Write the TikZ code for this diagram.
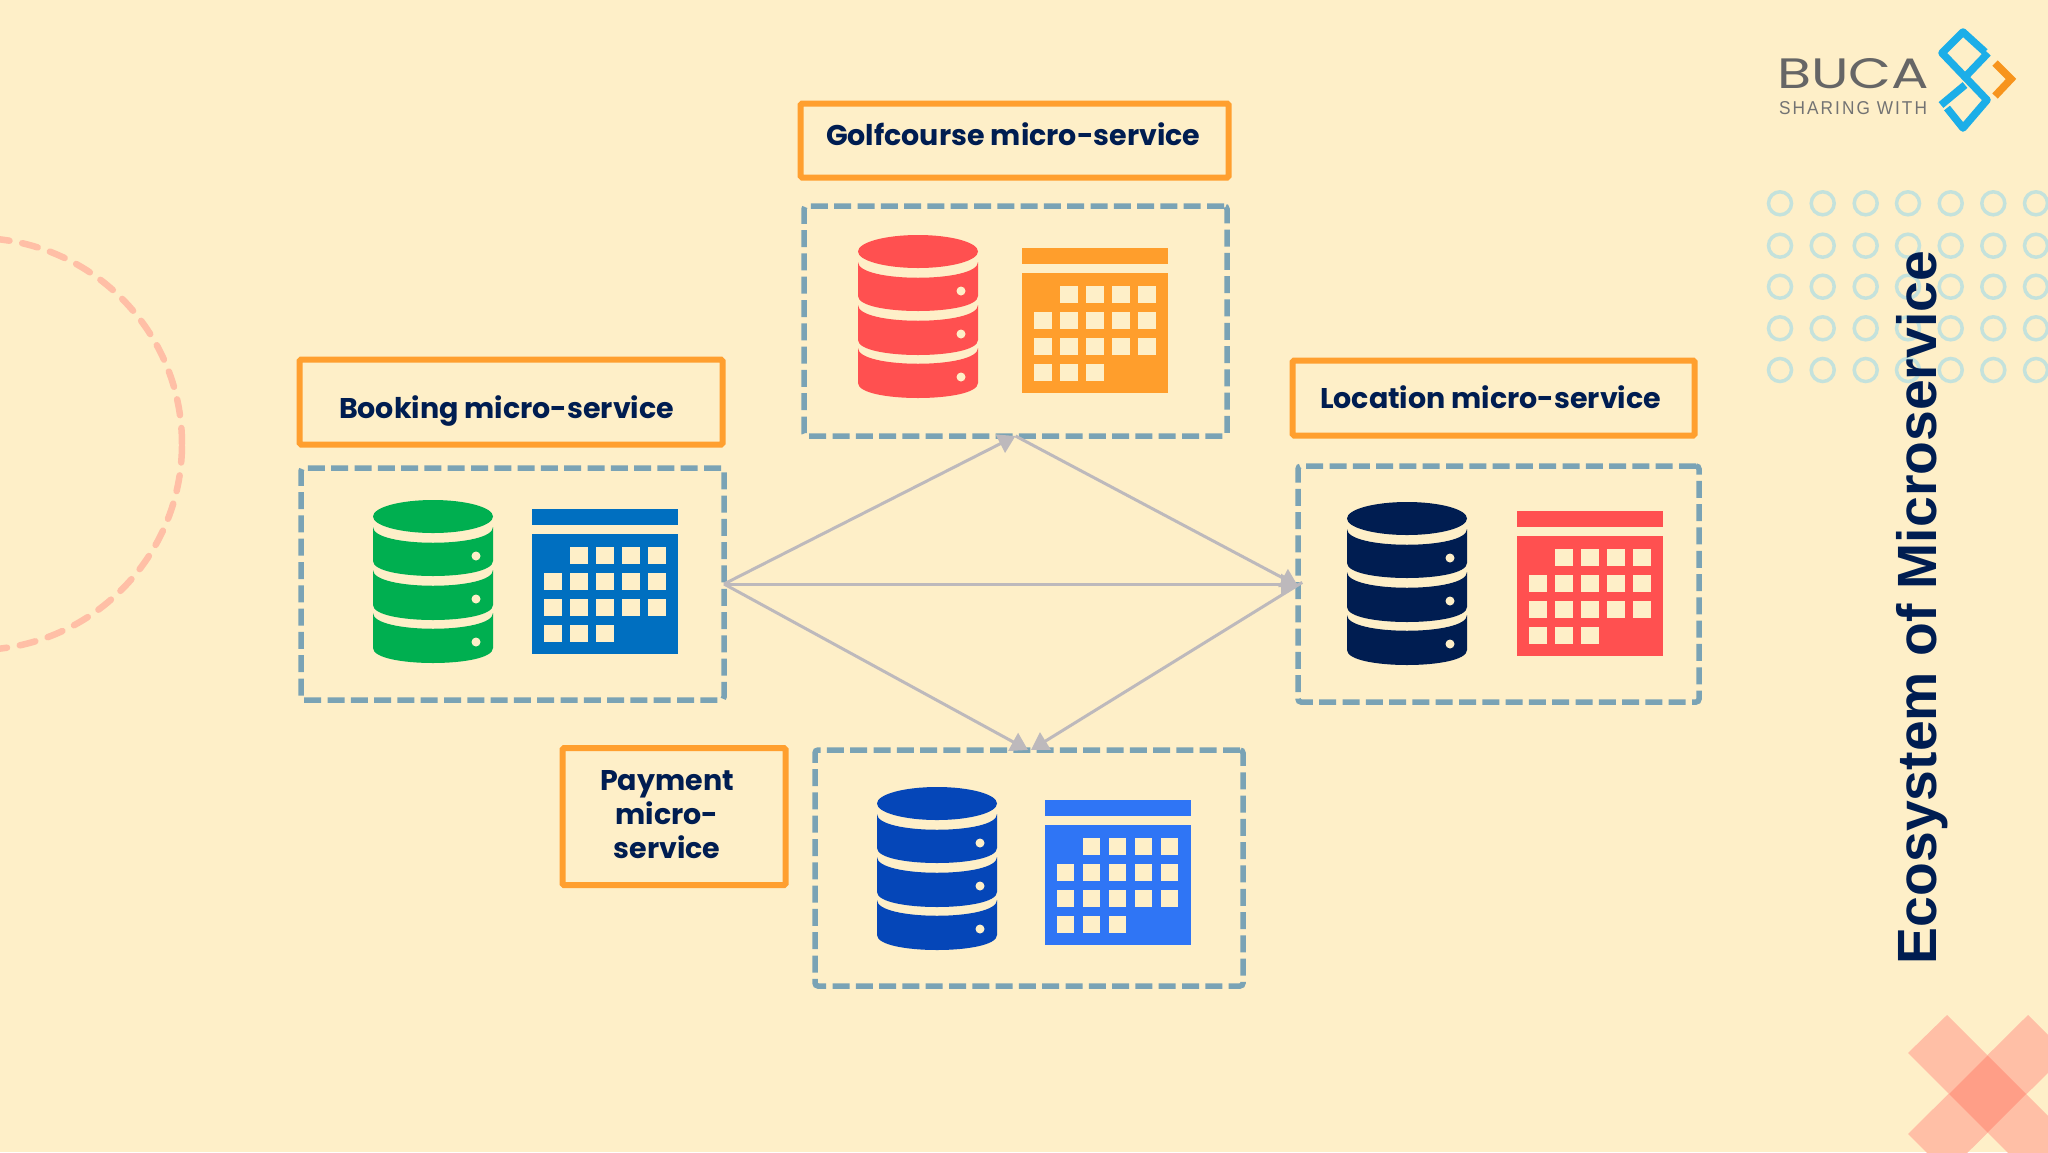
\documentclass[tikz,border=0pt]{standalone}
\usepackage{fontspec}
\usepackage{graphicx}
\setmainfont{Poppins}
\newfontfamily\titlefont{Liberation Sans}
\newfontfamily\logofont{Poppins}
\definecolor{bgc}{HTML}{FEEFC8}
\definecolor{navy}{HTML}{001D51}
\definecolor{orangeb}{HTML}{FF9F2F}
\definecolor{dashb}{HTML}{7AA3B5}
\definecolor{arrowc}{HTML}{BDB9BC}
\definecolor{peach}{HTML}{FFBFA6}
\definecolor{peachd}{HTML}{FF9E87}
\definecolor{ringc}{HTML}{C4E2DC}
\definecolor{logob}{HTML}{1CAEE8}
\definecolor{logoo}{HTML}{F7941D}
\definecolor{cgreen}{HTML}{00AF50}
\definecolor{cblue}{HTML}{006FC0}
\definecolor{cred}{HTML}{FF5050}
\definecolor{corange}{HTML}{FF9E2C}
\definecolor{cpdb}{HTML}{0546B8}
\definecolor{cpcal}{HTML}{2F75F5}
\usetikzlibrary{arrows.meta}
\tikzset{
  labelbox/.style={draw=orangeb,line width=6pt,rounded corners=1.5pt,inner sep=0pt,outer sep=0pt,anchor=north west,align=center},
  svcbox/.style={draw=dashb,line width=5.5pt,rounded corners=3pt,dash pattern=on 17pt off 6.3pt,inner sep=0pt,outer sep=0pt,anchor=north west},
  labeltext/.style={inner sep=0pt,outer sep=0pt,anchor=base west,text=navy,font=\bfseries\fontsize{28.5}{34}\selectfont},
  conn/.style={draw=arrowc,line width=3pt,-{Triangle[length=17pt,width=20pt,color=arrowc]}},
}
\newcommand{\DbIcon}[3]{%
  \begin{scope}[shift={(#1,#2)}]
    \fill[#3] (60,16.5) ellipse [x radius=60pt,y radius=16.5pt];
    \foreach \a/\b/\d in {27/61/56,70/105/99,113/148/142}{
      \fill[#3] (0,\a) .. controls (0,\a+21) and (120,\a+21) .. (120,\a) -- (120,\b)
        .. controls (120,\b+20) and (0,\b+20) .. (0,\b) -- cycle;
      \fill[bgc] (103,\d) circle [radius=4.5pt];
    }
  \end{scope}}
\newcommand{\CalIcon}[4]{%
  \begin{scope}[shift={(#1,#2)}]
    \fill[#4] (0,0) rectangle (146,16);
    \fill[#3] (0,25) rectangle (146,145);
    \foreach \cx/\cy in {1/0,2/0,3/0,4/0,0/1,1/1,2/1,3/1,4/1,0/2,1/2,2/2,3/2,4/2,0/3,1/3,2/3}{
      \fill[bgc] ({12.3+26*\cx},{37.7+26*\cy}) rectangle ++(17.3,17.3);
    }
  \end{scope}}
\begin{document}
\begin{tikzpicture}[x=1pt,y=-1pt]
\useasboundingbox (0,0) rectangle (2048,1152);
\clip (0,0) rectangle (2048,1152);
\fill[bgc] (0,0) rectangle (2048,1152);

% background decoration
\draw[peach,line width=6.5pt,line cap=round,dash pattern=on 16pt off 13pt] (-24,444) circle [radius=206pt];
\foreach \rx in {1780,1822.7,1865.7,1908,1950.7,1993.3,2036}{
  \foreach \ry in {203.3,245.7,286.7,328.3,370}{
    \draw[ringc,line width=3.5pt] (\rx,\ry) circle [radius=11.5pt];
  }
}
\fill[peach] (1908,1053) -- (1947,1015) -- (2067,1135) -- (2028,1173) -- cycle;
\fill[peach] (2028,1015) -- (2067,1054) -- (1947,1173) -- (1908,1134) -- cycle;
\fill[peachd] (1987.5,1055.5) -- (2026,1094) -- (1987.5,1132.5) -- (1949,1094) -- cycle;

% logo
\node[inner sep=0pt,outer sep=0pt,anchor=south west,text=black!60] (logotext) at (1777,89) {\resizebox{152pt}{30pt}{\logofont\fontsize{40}{40}\selectfont BUCA}};
\node[inner sep=0pt,outer sep=0pt,anchor=south west,text=black!55] (logosub) at (1779,115) {\resizebox{148pt}{13pt}{\titlefont\addfontfeatures{LetterSpace=12}\fontsize{18}{18}\selectfont SHARING WITH}};
\draw[logob,line width=7.5pt,line join=round] (1985,52) -- (1963,32) -- (1942,53) -- (1987,100) -- (1963,128) -- (1947,108);
\draw[logob,line width=7.5pt] (1967,75) -- (1988,53);
\draw[logob,line width=7.5pt] (1965,85) -- (1941,105);
\draw[logoo,line width=7.5pt,line join=miter] (1995,63) -- (2011,79) -- (1995,96);

% service boxes
\node[svcbox,minimum width=423pt,minimum height=232pt] (booking) at (301,468) {};
\node[svcbox,minimum width=423pt,minimum height=230pt] (golf) at (804,206) {};
\node[svcbox,minimum width=401pt,minimum height=236pt] (location) at (1298,466) {};
\node[svcbox,minimum width=428pt,minimum height=236pt] (payment) at (815,750) {};

% label boxes
\node[labelbox,minimum width=423pt,minimum height=85pt] (bookingbox) at (299.5,359.5) {};
\node[labelbox,minimum width=428pt,minimum height=74pt] (golfbox) at (800.5,103.5) {};
\node[labelbox,minimum width=402pt,minimum height=75pt] (locationbox) at (1292.5,360.5) {};
\node[labelbox,minimum width=223pt,minimum height=137pt] (paymentbox) at (562.5,748) {};

% label texts
\node[labeltext] (bookingt) at (339,418) {Booking micro-service};
\node[labeltext] (golft) at (826,145) {Golfcourse micro-service};
\node[labeltext] (locationt) at (1320,408) {Location micro-service};
\node[labeltext,anchor=base] (paymentt1) at (667,790) {Payment};
\node[labeltext,anchor=base] (paymentt2) at (667,824) {micro-};
\node[labeltext,anchor=base] (paymentt3) at (667,858) {service};

% icons
\DbIcon{373}{500}{cgreen}
\CalIcon{532}{509}{cblue}{cblue}
\DbIcon{858}{235}{cred}
\CalIcon{1022}{248}{corange}{corange}
\DbIcon{1347}{502}{navy}
\CalIcon{1517}{511}{cred}{cred}
\DbIcon{877}{787}{cpdb}
\CalIcon{1044.5}{800}{cpcal}{cpcal}

% connectors
\draw[conn] (booking.east) -- (golf.south);
\draw[conn] (booking.east) -- (location.west);
\draw[conn] (booking.east) -- ([xshift=-1pt]payment.north);
\draw[conn] (golf.south) -- ([yshift=-2pt]location.west);
\draw[conn,shorten <=-5pt] ([yshift=-1pt]location.west) -- ([xshift=2pt]payment.north);

% title
\node[inner sep=0pt,outer sep=0pt,anchor=base west,rotate=90,text=navy,font=\titlefont\bfseries\fontsize{55.3}{60}\selectfont] (title) at (1936,964) {Ecosystem of Microservice};
\end{tikzpicture}
\end{document}
